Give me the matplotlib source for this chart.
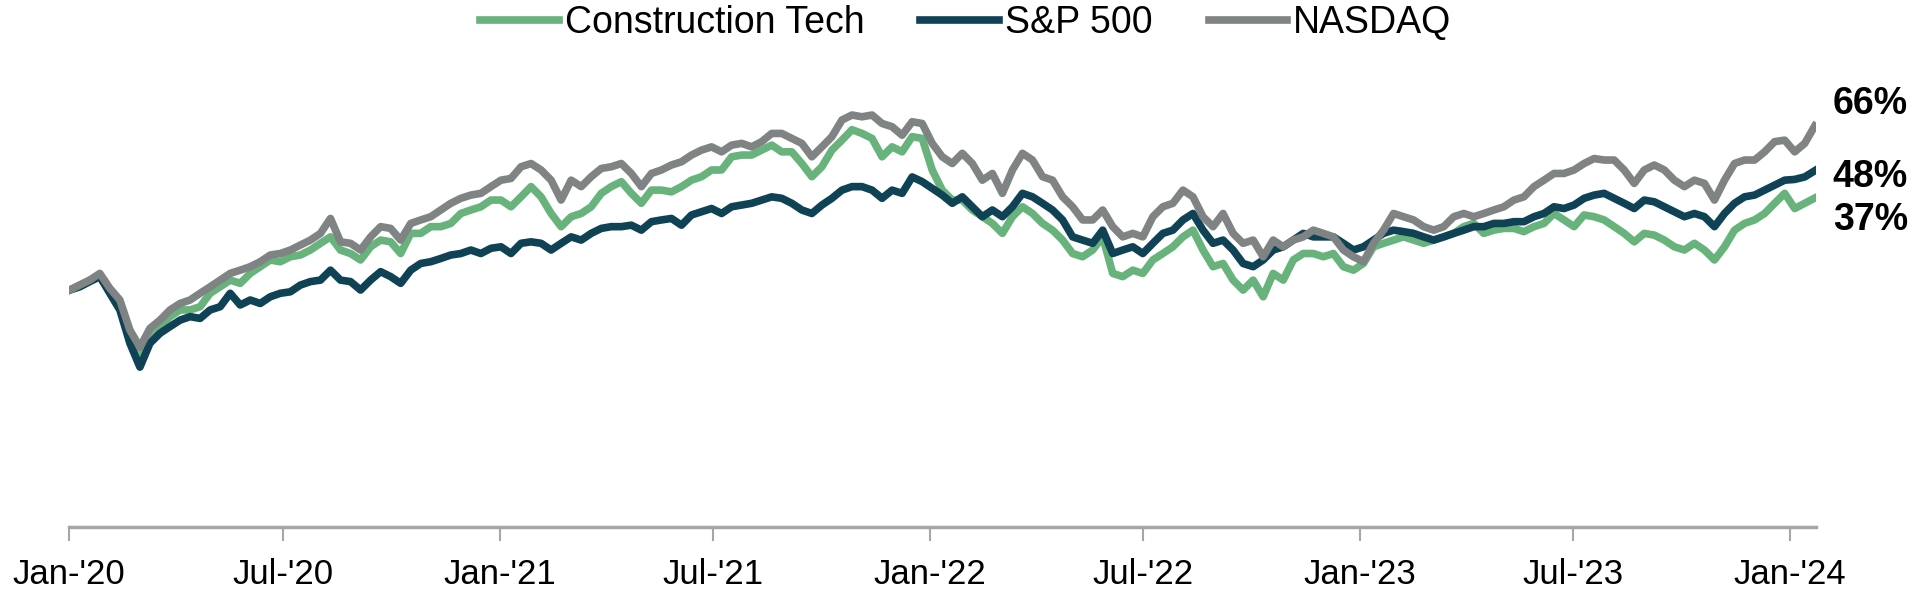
import matplotlib
matplotlib.use("Agg")
import matplotlib.pyplot as plt
import pandas as pd

plt.rcParams['font.family'] = ['Liberation Sans', 'DejaVu Sans']

construction_tech = [
    0.0, 2.0, 4.0, 6.0, 0.0, -5.4, -18.8, -27.0, -17.4, -14.7, -10.7, -8.0, -8.0, -6.7, -1.3,
    1.3, 4.0, 2.7, 6.7, 9.4, 12.1, 11.4, 13.4, 14.1, 16.1, 18.8, 21.4, 16.1, 14.7,
    12.1, 17.4, 20.1, 19.4, 14.7, 22.8, 22.8, 25.5, 25.5, 26.8, 30.8, 32.2, 33.5, 36.2, 36.2,
    33.5, 37.5, 41.6, 37.5, 30.8, 25.5, 29.5, 30.8, 33.5, 38.9, 41.6, 43.6, 38.9, 34.9,
    40.2, 40.2, 39.5, 41.6, 44.2, 45.6, 48.3, 48.3, 53.6, 54.3, 54.3, 56.3, 58.3, 55.6, 55.6,
    50.9, 45.6, 49.6, 56.3, 60.3, 64.5, 63.0, 61.0, 53.6, 57.6, 55.6, 61.7, 61.0, 48.3,
    40.2, 36.2, 36.2, 32.2, 29.5, 26.8, 22.8, 29.5, 33.5, 30.8, 26.8, 24.1, 20.1, 14.7, 13.4,
    16.1, 21.4, 6.7, 5.4, 8.0, 6.7, 12.1, 14.7, 17.4, 21.4, 24.1, 16.1, 9.4, 10.7,
    4.0, 0.0, 4.0, -2.7, 6.7, 4.0, 12.1, 14.7, 14.7, 13.4, 14.7, 9.4, 8.0, 10.7, 17.4,
    18.8, 20.1, 21.4, 20.1, 18.8, 20.1, 21.4, 22.8, 25.5, 26.8, 22.8, 24.1, 24.8, 24.8,
    23.5, 25.5, 26.8, 30.8, 28.2, 25.5, 30.2, 29.5, 28.2, 25.5, 22.8, 19.4, 22.8, 22.1, 20.1,
    17.4, 16.1, 18.8, 16.1, 12.1, 17.4, 24.1, 26.8, 28.2, 30.8, 34.9, 38.9, 32.8, 34.9, 37.0,
]
sp500 = [
    0.0, 1.3, 3.4, 5.4, -1.3, -8.0, -21.4, -31.0, -21.4, -17.4, -14.7, -12.1, -10.7, -11.4, -8.0,
    -6.7, -1.3, -6.0, -4.0, -5.4, -2.7, -1.3, -0.7, 2.0, 3.4, 4.0, 8.0, 4.0, 3.4,
    0.0, 4.0, 7.4, 5.4, 2.7, 8.0, 10.7, 11.4, 12.7, 14.1, 14.7, 16.1, 14.7, 16.8, 17.4,
    14.7, 18.8, 19.4, 18.8, 16.1, 18.8, 21.4, 20.1, 22.8, 24.8, 25.5, 25.5, 26.1, 24.1,
    27.5, 28.2, 28.8, 26.1, 30.2, 31.5, 32.8, 30.8, 33.5, 34.2, 34.9, 36.2, 37.5, 36.9, 34.9,
    32.2, 30.8, 34.2, 36.9, 40.2, 41.6, 41.6, 40.2, 36.9, 40.2, 38.9, 45.5, 43.6, 40.9,
    38.2, 34.9, 37.5, 33.5, 29.5, 32.2, 29.5, 33.5, 38.9, 37.5, 34.9, 32.2, 28.2, 21.4, 20.1,
    18.8, 24.1, 14.7, 16.1, 17.4, 14.7, 18.8, 22.8, 24.1, 28.2, 30.8, 24.1, 18.8, 20.1,
    16.1, 10.7, 9.4, 12.1, 16.1, 17.4, 20.1, 22.8, 21.4, 21.4, 21.4, 18.8, 16.1, 17.4, 20.1,
    22.8, 24.1, 23.5, 22.8, 21.4, 20.1, 21.4, 22.8, 24.1, 25.5, 25.5, 26.8, 26.8, 27.5,
    27.5, 29.5, 30.8, 33.5, 32.8, 34.2, 36.9, 38.2, 38.9, 36.9, 34.9, 32.8, 36.2, 35.5, 33.5,
    31.5, 29.5, 30.8, 29.5, 25.5, 30.8, 34.9, 37.5, 38.2, 40.2, 42.2, 44.2, 44.5, 45.5, 48.0,
]
nasdaq = [
    0.0, 2.0, 4.0, 6.7, 0.7, -4.0, -16.1, -23.0, -15.4, -12.1, -8.0, -5.4, -4.0, -1.3, 1.3,
    4.0, 6.7, 8.0, 9.4, 11.4, 14.1, 14.7, 16.1, 18.1, 20.1, 22.8, 28.8, 19.4, 18.8,
    16.1, 21.4, 25.5, 24.8, 20.1, 26.8, 28.2, 29.5, 32.2, 34.9, 36.9, 38.2, 38.9, 41.6, 44.2,
    44.9, 49.6, 50.9, 48.3, 44.2, 36.2, 44.2, 41.6, 45.6, 48.9, 49.6, 50.9, 46.9, 41.6,
    46.9, 48.3, 50.3, 51.6, 54.3, 56.3, 57.6, 55.6, 58.3, 59.0, 57.6, 59.7, 63.0, 63.0, 61.0,
    59.0, 53.6, 57.6, 61.7, 68.4, 70.4, 69.7, 70.4, 67.0, 65.7, 62.3, 67.7, 67.0, 59.0,
    53.6, 50.9, 55.0, 50.9, 44.2, 46.9, 38.9, 48.3, 55.0, 52.3, 45.6, 44.2, 37.5, 33.5, 28.2,
    28.2, 32.2, 25.5, 21.4, 22.8, 21.4, 29.5, 33.5, 34.9, 40.2, 37.5, 29.5, 25.5, 30.8,
    22.8, 18.8, 20.1, 13.4, 20.1, 17.4, 20.1, 21.4, 24.1, 22.8, 21.4, 16.1, 13.4, 11.4, 18.8,
    24.1, 30.8, 29.5, 28.2, 25.5, 24.1, 25.5, 29.5, 30.8, 29.5, 30.8, 32.2, 33.5, 36.2,
    37.5, 41.6, 44.2, 46.9, 46.9, 48.3, 50.9, 52.9, 52.3, 52.3, 48.3, 42.9, 48.3, 50.3, 48.3,
    44.2, 41.6, 44.2, 42.9, 36.2, 44.2, 50.9, 52.3, 52.3, 55.6, 59.7, 60.3, 55.6, 59.0, 66.0,
]
dates = pd.date_range("2020-01-02", "2024-01-22", periods=len(nasdaq))

series_names = ["Construction Tech", "S&P 500", "NASDAQ"]
series_colors = ["#68b27c", "#104256", "#808383"]
end_labels = ["37%", "48%", "66%"]

tick_dates = pd.to_datetime(["2020-01-01", "2020-07-01", "2021-01-01", "2021-07-01", "2022-01-01",
                             "2022-07-01", "2023-01-01", "2023-07-01", "2024-01-01"])
tick_labels = ["Jan-'20", "Jul-'20", "Jan-'21", "Jul-'21", "Jan-'22",
               "Jul-'22", "Jan-'23", "Jul-'23", "Jan-'24"]

fig = plt.figure(figsize=(19.2, 6.11), dpi=100)
ax = fig.add_axes([0.0357, 0.1375, 0.9101, 0.7316])

# label offsets (pixels) so the end labels don't collide
label_offsets = [(18, -22), (18, -6), (18, 22)]

for name, vals, color, lab, off in zip(series_names, [construction_tech, sp500, nasdaq],
                                        series_colors, end_labels, label_offsets):
    ax.plot(dates, vals, color=color, lw=5.5, label=name, solid_joinstyle='round')
    ax.annotate(lab, xy=(dates[-1], vals[-1]), xytext=off, textcoords='offset pixels',
                ha='left', va='center', fontsize=27, fontweight='bold', annotation_clip=False)

ax.set_xlim(pd.Timestamp("2020-01-01"), pd.Timestamp("2024-01-23"))
ax.set_ylim(-95.3, 84.5)
ax.set_yticks([])
for side in ["left", "right", "top"]:
    ax.spines[side].set_visible(False)
ax.spines["bottom"].set_color("#a6a6a6")
ax.spines["bottom"].set_linewidth(2.5)
ax.set_xticks(tick_dates)
ax.set_xticklabels(tick_labels, fontsize=25)
ax.tick_params(axis="x", length=10, width=1.5, color="#a6a6a6", pad=12)

fig.legend(loc="center", bbox_to_anchor=(0.503, 0.962), ncol=3, frameon=False, fontsize=27,
           handlelength=2.1, handletextpad=0.15, columnspacing=1.5)

fig.savefig("out.png", dpi=100)
